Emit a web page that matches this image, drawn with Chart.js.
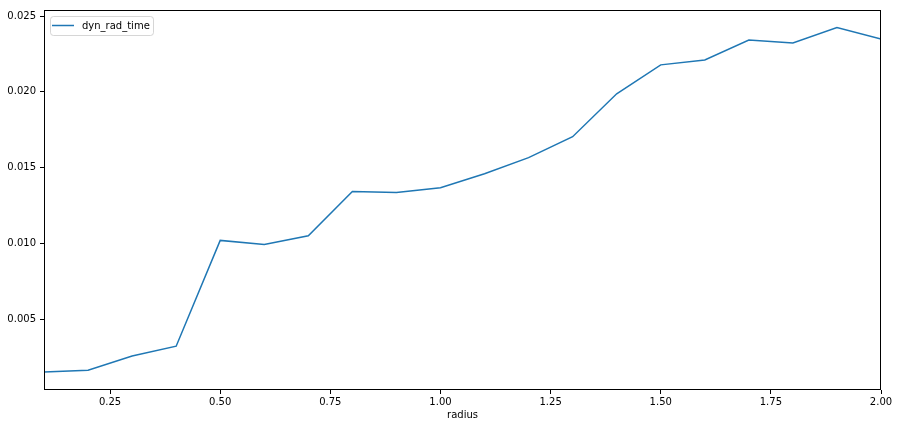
<!DOCTYPE html>
<html>
<head>
<meta charset="utf-8">
<script src="https://cdn.jsdelivr.net/npm/chart.js@4/dist/chart.umd.min.js"></script>
<style>
  html, body { margin: 0; padding: 0; background: #fff; }
  #wrap { width: 899px; height: 426px; }
</style>
</head>
<body>
<div id="wrap"><canvas id="chart"></canvas></div>
<script>
const radius = [0.1, 0.2, 0.3, 0.4, 0.5, 0.6, 0.7, 0.8, 0.9, 1.0,
                1.1, 1.2, 1.3, 1.4, 1.5, 1.6, 1.7, 1.8, 1.9, 2.0];
const dynRadTime = [0.00151, 0.00164, 0.00257, 0.00322, 0.01020, 0.00993, 0.01050, 0.01342, 0.01336, 0.01368,
                    0.01460, 0.01566, 0.01704, 0.01987, 0.02178, 0.02210, 0.02342, 0.02322, 0.02424, 0.02349];
const xTicks = [0.25, 0.5, 0.75, 1.0, 1.25, 1.5, 1.75, 2.0];
const yTicks = [0.005, 0.010, 0.015, 0.020, 0.025];

const font = { family: 'DejaVu Sans', size: 10 };

// box around the plot area, like matplotlib spines
const frame = {
  id: 'frame',
  afterDraw(chart) {
    const { ctx, chartArea: a } = chart;
    ctx.save();
    ctx.strokeStyle = '#000';
    ctx.lineWidth = 1;
    ctx.strokeRect(Math.round(a.left) + 0.5, Math.round(a.top) + 0.5,
                   Math.round(a.right - a.left) - 1, Math.round(a.bottom - a.top) - 1);
    ctx.restore();
  }
};

// legend drawn inside the plot, upper left
const innerLegend = {
  id: 'innerLegend',
  afterDraw(chart) {
    const { ctx, chartArea: a } = chart;
    const ds = chart.data.datasets[0];
    const x = a.left + 6, y = a.top + 6, w = 103, h = 19, r = 3;
    ctx.save();
    ctx.fillStyle = 'rgba(255,255,255,0.8)';
    ctx.strokeStyle = 'rgba(204,204,204,0.8)';
    ctx.lineWidth = 1;
    ctx.beginPath();
    ctx.roundRect(x + 0.5, y + 0.5, w, h, r);
    ctx.fill();
    ctx.stroke();
    ctx.strokeStyle = ds.borderColor;
    ctx.lineWidth = 1.5;
    ctx.beginPath();
    ctx.moveTo(x + 2, y + 9.5);
    ctx.lineTo(x + 24, y + 9.5);
    ctx.stroke();
    ctx.fillStyle = '#000';
    ctx.font = '10px "DejaVu Sans"';
    ctx.textBaseline = 'middle';
    ctx.fillText(ds.label, x + 32, y + 10);
    ctx.restore();
  }
};

new Chart(document.getElementById('chart'), {
  type: 'line',
  data: {
    datasets: [{
      label: 'dyn_rad_time',
      data: radius.map((r, i) => ({ x: r, y: dynRadTime[i] })),
      borderColor: '#1f77b4',
      borderWidth: 1.5,
      pointRadius: 0,
      tension: 0,
      fill: false
    }]
  },
  options: {
    responsive: true,
    maintainAspectRatio: false,
    animation: false,
    layout: { padding: { left: 0, right: 18, top: 9, bottom: 0 } },
    plugins: { legend: { display: false }, tooltip: { enabled: false } },
    scales: {
      x: {
        type: 'linear',
        min: 0.1,
        max: 2.0,
        afterBuildTicks(scale) { scale.ticks = xTicks.map(v => ({ value: v })); },
        afterFit(scale) { scale.height = 36; },
        border: { display: false },
        grid: { drawOnChartArea: false, drawTicks: true, tickLength: 4, color: '#000', tickWidth: 1 },
        ticks: {
          font, color: '#000', padding: 2, maxRotation: 0,
          callback: v => v.toFixed(2)
        },
        title: { display: true, text: 'radius', font, color: '#000', padding: { top: 0, bottom: 5 } }
      },
      y: {
        type: 'linear',
        min: 0.00033,
        max: 0.0254,
        afterBuildTicks(scale) { scale.ticks = yTicks.map(v => ({ value: v })); },
        afterFit(scale) { scale.width = 44; },
        border: { display: false },
        grid: { drawOnChartArea: false, drawTicks: true, tickLength: 4, color: '#000', tickWidth: 1 },
        ticks: {
          font, color: '#000', padding: 4,
          callback: v => v.toFixed(3)
        }
      }
    }
  },
  plugins: [frame, innerLegend]
});
</script>
</body>
</html>
